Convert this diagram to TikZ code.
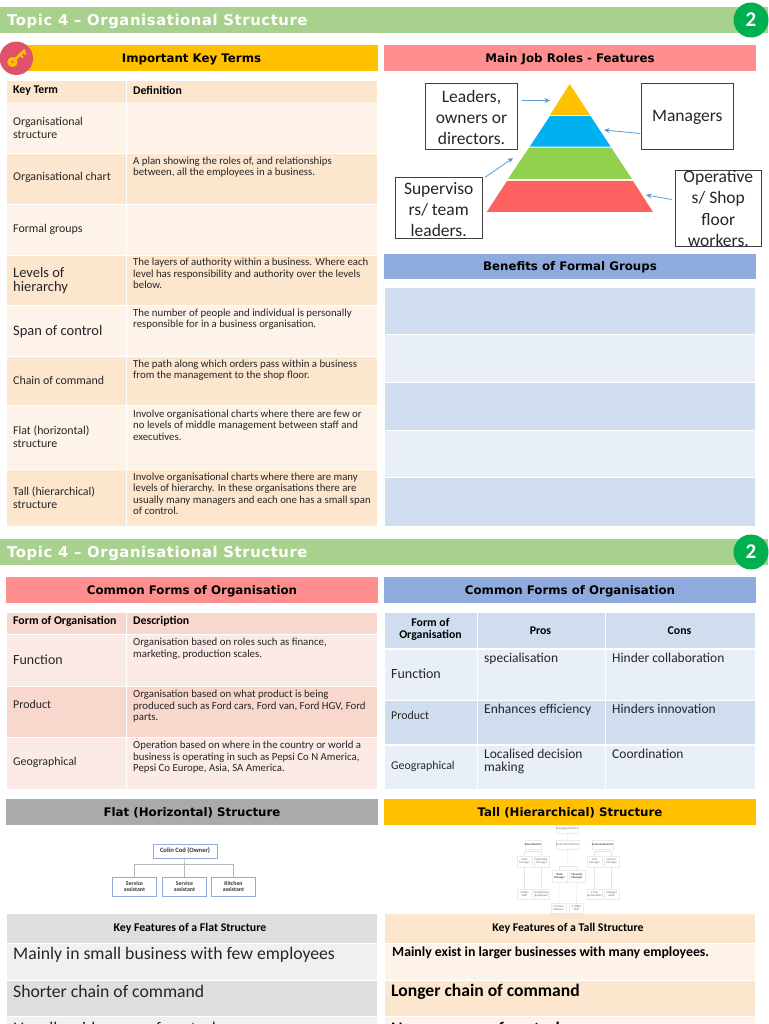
\documentclass[tikz,border=0pt]{standalone}
\usepackage{fontspec}
\usepackage{xcolor}
\setmainfont{Carlito}
\newfontfamily\headfont{DejaVu Sans}
\newfontfamily\titlefont[LetterSpace=4]{DejaVu Sans}
\usetikzlibrary{arrows.meta}
\definecolor{titlegreen}{HTML}{A9D18E}
\definecolor{badgegreen}{HTML}{00B050}
\definecolor{amber}{HTML}{FFC000}
\definecolor{salmon}{HTML}{FF8F8F}
\definecolor{periwinkle}{HTML}{8FAADC}
\definecolor{midgrey}{HTML}{ABA9A9}
\definecolor{orangeA}{HTML}{FDE6CE}
\definecolor{orangeB}{HTML}{FEF3E8}
\definecolor{blueA}{HTML}{CFDDEE}
\definecolor{blueB}{HTML}{E9EFF7}
\definecolor{pinkA}{HTML}{F8D7CD}
\definecolor{pinkB}{HTML}{FBEAE6}
\definecolor{greyA}{HTML}{DEDEDE}
\definecolor{greyB}{HTML}{F0F0F0}
\definecolor{bodyink}{HTML}{262626}
\definecolor{arrowblue}{HTML}{5B9BD5}
\definecolor{keyrose}{HTML}{E0516B}
\definecolor{pyrblue}{HTML}{00B0F0}
\definecolor{pyrgreen}{HTML}{92D050}
\definecolor{pyrred}{HTML}{FF6161}
\tikzset{
  banner/.style={inner sep=0, outer sep=0, minimum height=26, text=black,
    text height=8.6, text depth=0,
    font=\headfont\bfseries\fontsize{11.8}{13}\selectfont},
  topictitle/.style={anchor=west, inner sep=0, text=white, text height=11, text depth=0,
    font=\titlefont\bfseries\fontsize{14.8}{16}\selectfont},
  badge/.style={circle, fill=badgegreen, minimum size=35, inner sep=0, text=white,
    text height=13.5, text depth=0, font=\bfseries\fontsize{21}{21}\selectfont},
  colhead/.style={anchor=west, inner sep=0, text=black, align=left, yshift=-0.7,
    font=\bfseries\fontsize{11.8}{12.5}\selectfont},
  colheadmid/.style={inner sep=0, text=black, align=center, yshift=-0.5,
    font=\bfseries\fontsize{11.8}{12.5}\selectfont},
  term/.style={anchor=west, inner sep=0, text=bodyink, align=left, yshift=-0.7,
    font=\fontsize{11.9}{12.5}\selectfont},
  bigterm/.style={term, yshift=-1, font=\fontsize{14.5}{14.5}\selectfont},
  functerm/.style={term, font=\fontsize{14}{15}\selectfont},
  defn/.style={anchor=north west, inner sep=0, text=bodyink, align=left, yshift=-1,
    font=\fontsize{10.8}{11.4}\selectfont},
  procon/.style={anchor=north west, inner sep=0, text=bodyink, align=left, yshift=-1,
    font=\fontsize{13.5}{13.5}\selectfont},
  jobbox/.style={draw=black!75, fill=white, line width=0.8, inner sep=0, outer sep=0,
    align=center, text=bodyink, font=\fontsize{17.5}{21.3}\selectfont},
  jobarrow/.style={arrowblue, line width=0.8, -{Stealth[length=5.5, width=5]}},
  chartbox/.style={draw=periwinkle, fill=white, line width=0.6, inner sep=0,
    align=center, text=black!80, font=\bfseries\fontsize{5.8}{6.8}\selectfont},
  tinybox/.style={draw=black!8, fill=white, line width=0.4, inner sep=0,
    align=center, text=black!60, font=\fontsize{2.9}{3.4}\selectfont},
  tinybold/.style={tinybox, text=black!75, font=\bfseries\fontsize{2.9}{3.4}\selectfont},
  chartline/.style={draw=black!28, line width=0.6},
  tinyline/.style={draw=black!10, line width=0.4},
  bigfeature/.style={anchor=west, inner sep=0, text=bodyink, yshift=-1.5, font=\fontsize{17.7}{20}\selectfont},
  boldfeature/.style={bigfeature, text=black, font=\bfseries\fontsize{17.6}{20}\selectfont},
}
\begin{document}
\begin{tikzpicture}[x=1pt,y=-1pt]
  \useasboundingbox (0,0) rectangle (768,1024);
  \fill[white] (0,0) rectangle (768,1024);

  % Title bars with the number badge
  \foreach \y in {7,539} {
    \fill[titlegreen] (0,\y) rectangle (768,\y+26);
  }
  \node[topictitle] (titleA) at (7,20) {Topic 4 – Organisational Structure};
  \node[topictitle] (titleB) at (7,552) {Topic 4 – Organisational Structure};
  \node[badge] (badgeA) at (751,20) {2};
  \node[badge] (badgeB) at (751,552) {2};

  % Section banners
  \node[banner, fill=amber, minimum width=353] (termsHead) at (201.5,58) {};
  \node[banner] (termsText) at (191.5,58) {Important Key Terms};
  \node[banner, fill=salmon, minimum width=372] (rolesHead) at (570,58) {Main Job Roles - Features};
  \node[banner, fill=periwinkle, minimum width=372, minimum height=25] (benefitsHead) at (570,266.5) {Benefits of Formal Groups};
  \node[banner, fill=salmon, minimum width=372] (formsHead) at (192,590) {Common Forms of Organisation};
  \node[banner, fill=periwinkle, minimum width=372] (prosHead) at (570,590) {Common Forms of Organisation};
  \node[banner, fill=midgrey, minimum width=372] (flatHead) at (192,812) {Flat (Horizontal) Structure};
  \node[banner, fill=amber, minimum width=372] (tallHead) at (570,812) {Tall (Hierarchical) Structure};

  % Key icon on the first banner
  \fill[keyrose] (16.3,58.3) circle (16.7);
  \draw[amber, line width=3.6] (12.5,62) circle (3.2);
  \draw[amber, line width=2.6] (15,59.5) -- (25,50);
  \draw[amber, line width=2] (20,54.5) -- (23,57.5) (23,51.5) -- (26,54.5);

  % Key terms table
  \foreach \ya/\yb/\col in {81/102/orangeA,102.5/153/orangeB,154/204/orangeA,205/255/orangeB,
      256/305/orangeA,306/356/orangeB,357/405/orangeA,406/469/orangeB,470/526/orangeA} {
    \fill[\col] (7,\ya) rectangle (126,\yb);
    \fill[\col] (127,\ya) rectangle (377,\yb);
  }
  \node[colhead] (keyTerm) at (13,89.5) {Key Term};
  \node[colhead] (keyDef) at (133,89.5) {Definition};
  \node[term] (tStructure) at (13,127) {Organisational\\structure};
  \node[term] (tChart) at (13,176.5) {Organisational chart};
  \node[term] (tFormal) at (13,228.5) {Formal groups};
  \node[bigterm] (tLevels) at (13,279) {Levels of\\hierarchy};
  \node[bigterm] (tSpan) at (13,330) {Span of control};
  \node[term] (tCommand) at (13,379.5) {Chain of command};
  \node[term] (tFlat) at (13,436) {Flat (horizontal)\\structure};
  \node[term] (tTall) at (13,497) {Tall (hierarchical)\\structure};
  \node[defn] (dChart) at (133,155.5) {A plan showing the roles of, and relationships\\between, all the employees in a business.};
  \node[defn] (dLevels) at (133,257) {The layers of authority within a business. Where each\\level has responsibility and authority over the levels\\below.};
  \node[defn] (dSpan) at (133,307.5) {The number of people and individual is personally\\responsible for in a business organisation.};
  \node[defn] (dCommand) at (133,358.5) {The path along which orders pass within a business\\from the management to the shop floor.};
  \node[defn] (dFlat) at (133,408.5) {Involve organisational charts where there are few or\\no levels of middle management between staff and\\executives.};
  \node[defn] (dTall) at (133,471.5) {Involve organisational charts where there are many\\levels of hierarchy. In these organisations there are\\usually many managers and each one has a small span\\of control.};

  % Pyramid
  \fill[amber] (569.7,84) -- (590,115) -- (550,115) -- cycle;
  \fill[pyrblue] (550,116) -- (590.5,116) -- (610.7,146.7) -- (529.7,146.7) -- cycle;
  \fill[pyrgreen] (529,147.7) -- (611.3,147.7) -- (632,179) -- (508,179) -- cycle;
  \fill[pyrred] (507,181) -- (633,181) -- (653,212) -- (486.7,212) -- cycle;

  % Job role boxes and their arrows
  \node[jobbox, minimum width=91.6, minimum height=65.6] (leaders) at (471.5,116.5) {\rule{0pt}{14pt}Leaders,\\owners or\\directors.};
  \node[jobbox, minimum width=92, minimum height=65.6, text height=10.5, text depth=0] (managers) at (687.3,116.5) {Managers};
  \node[jobbox, minimum width=86.7, minimum height=61.4] (supervisors) at (438.7,208) {\rule{0pt}{15pt}Superviso\\rs/ team\\leaders.};
  \node[jobbox, minimum width=86.7, minimum height=61.4] (operatives) at (718.3,208.5) {Operative\\s/ Shop\\floor\\workers.};
  \coordinate (tipLeaders) at (550,100.5);
  \coordinate (tipManagers) at (604,130);
  \coordinate (tipSupervisors) at (513,158);
  \coordinate (tipOperatives) at (646,195);
  \draw[jobarrow] ([shift={(5,-16)}]leaders.east) -- (tipLeaders);
  \draw[jobarrow] ([shift={(-1,17)}]managers.west) -- (tipManagers);
  \draw[jobarrow] ([shift={(3,0)}]supervisors.north east) -- (tipSupervisors);
  \draw[jobarrow] ([shift={(-3,-9)}]operatives.west) -- (tipOperatives);

  % Benefits rows
  \foreach \ya/\yb/\col in {288/334/blueA,335/382/blueB,383/430/blueA,431/477/blueB,478/526/blueA} {
    \fill[\col] (385,\ya) rectangle (755,\yb);
  }

  % Forms of organisation table
  \foreach \ya/\yb/\col in {613/634/pinkA,635/686/pinkB,687/737/pinkA,738/789/pinkB} {
    \fill[\col] (7,\ya) rectangle (126,\yb);
    \fill[\col] (127,\ya) rectangle (377,\yb);
  }
  \node[colhead] (formHead) at (13,620.5) {Form of Organisation};
  \node[colhead] (descHead) at (133,620.5) {Description};
  \node[functerm] (fFunction) at (13,659) {Function};
  \node[term] (fProduct) at (13,703.5) {Product};
  \node[term] (fGeo) at (13,762) {Geographical};
  \node[defn] (dFunction) at (133,637) {Organisation based on roles such as finance,\\marketing, production scales.};
  \node[defn] (dProduct) at (133,689) {Organisation based on what product is being\\produced such as Ford cars, Ford van, Ford HGV, Ford\\parts.};
  \node[defn] (dGeo) at (133,740) {Operation based on where in the country or world a\\business is operating in such as Pepsi Co N America,\\Pepsi Co Europe, Asia, SA America.};

  % Pros and cons table
  \foreach \ya/\yb/\col in {613/648/blueA,650/700/blueB,701/744/blueA,746/789/blueB} {
    \fill[\col] (385,\ya) rectangle (477,\yb);
    \fill[\col] (478,\ya) rectangle (604.5,\yb);
    \fill[\col] (606,\ya) rectangle (755,\yb);
  }
  \node[colheadmid] (formOrg) at (430.5,629) {Form of\\Organisation};
  \node[colheadmid] (pros) at (540.5,630) {Pros};
  \node[colheadmid] (cons) at (679.5,630) {Cons};
  \node[functerm] (pFunction) at (391,673.5) {Function};
  \node[term] (pProduct) at (391,714.5) {Product};
  \node[term] (pGeo) at (391,766) {Geographical};
  \node[procon] (proA) at (484,651.5) {specialisation};
  \node[procon] (conA) at (612,651.5) {Hinder collaboration};
  \node[procon] (proB) at (484,703) {Enhances efficiency};
  \node[procon] (conB) at (612,703) {Hinders innovation};
  \node[procon] (proC) at (484,747.5) {Localised decision\\making};
  \node[procon] (conC) at (612,747.5) {Coordination};

  % Flat structure chart
  \coordinate (flatBus) at (184.5,864.5);
  \node[chartbox, minimum width=64, minimum height=14, font=\bfseries\fontsize{6.6}{7}\selectfont] (colin) at (185,851) {Colin Cod (Owner)};
  \node[chartbox, minimum width=43.5, minimum height=19] (serviceA) at (134.5,886.5) {Service\\assistant};
  \node[chartbox, minimum width=43.5, minimum height=19] (serviceB) at (184.5,886.5) {Service\\assistant};
  \node[chartbox, minimum width=43.5, minimum height=19] (kitchen) at (233.5,886.5) {Kitchen\\assistant};
  \draw[chartline] (colin) -- (flatBus);
  \foreach \n in {serviceA,serviceB,kitchen} {
    \draw[chartline] (flatBus) -| (\n);
  }

  % Tall structure chart
  \coordinate (busSales) at (533,851.5);
  \coordinate (busProd) at (568,866);
  \coordinate (busAcc) at (603,851.5);
  \node[tinybox, minimum width=20, minimum height=8] (md) at (567,829) {Managing Director};
  \node[tinybold, minimum width=16, minimum height=9] (salesDir) at (533,844.5) {Sales Director};
  \node[tinybox, minimum width=21, minimum height=9] (prodDir) at (567.5,844.5) {Production Director};
  \node[tinybold, minimum width=19, minimum height=9] (accDir) at (602.5,844.5) {Accounts Director};
  \node[tinybox, minimum width=15, minimum height=11] (salesMgr) at (524.5,861.5) {Sales\\Manager};
  \node[tinybox, minimum width=15, minimum height=11] (mktMgr) at (541.5,861.5) {Marketing\\Manager};
  \node[tinybox, minimum width=15, minimum height=11] (costMgr) at (594.5,861.5) {Cost\\Manager};
  \node[tinybox, minimum width=15, minimum height=11] (incMgr) at (611.5,861.5) {Income\\Manager};
  \node[tinybold, minimum width=15, minimum height=12] (stockMgr) at (559.5,876) {Stock\\Manager};
  \node[tinybold, minimum width=16, minimum height=12] (finMgr) at (577,876) {Financial\\Manager};
  \node[tinybox, minimum width=15, minimum height=10] (salesStaff) at (524.5,894) {3 Sales\\Staff};
  \node[tinybox, minimum width=15, minimum height=10] (mktStaff) at (541.5,894) {4 Marketing\\Employees};
  \node[tinybox, minimum width=15, minimum height=10] (costStaff) at (594.5,894) {2 Cost\\Accountants};
  \node[tinybox, minimum width=15, minimum height=10] (incStaff) at (611.5,894) {3 Budget\\Clerk};
  \node[tinybox, minimum width=15, minimum height=10] (factory) at (558.5,908) {7 Factory\\Workers};
  \node[tinybox, minimum width=14, minimum height=10] (office) at (576.5,908) {4 Office\\Staff};
  \draw[tinyline] (md) -- (prodDir);
  \draw[tinyline] (prodDir) -- (busProd);
  \draw[tinyline] (salesDir) -- (busSales);
  \draw[tinyline] (accDir) -- (busAcc);
  \foreach \n in {salesMgr,mktMgr} {\draw[tinyline] (busSales) -| (\n);}
  \foreach \n in {costMgr,incMgr} {\draw[tinyline] (busAcc) -| (\n);}
  \foreach \n in {stockMgr,finMgr} {\draw[tinyline] (busProd) -| (\n);}
  \draw[tinyline] (salesMgr) -- (salesStaff);
  \draw[tinyline] (mktMgr) -- (mktStaff);
  \draw[tinyline] (costMgr) -- (costStaff);
  \draw[tinyline] (incMgr) -- (incStaff);
  \draw[tinyline] (stockMgr) -- (factory);
  \draw[tinyline] (finMgr) -- (office);

  % Key features tables
  \foreach \ya/\yb/\cola/\colb in {914/943/greyA/orangeA,943.5/980/greyB/orangeB,981/1016/greyA/orangeA,1017/1024/greyB/orangeB} {
    \fill[\cola] (7,\ya) rectangle (377,\yb);
    \fill[\colb] (385,\ya) rectangle (755,\yb);
  }
  \node[colheadmid] (flatFeat) at (190,927.5) {Key Features of a Flat Structure};
  \node[colheadmid] (tallFeat) at (568,927.5) {Key Features of a Tall Structure};
  \node[bigfeature] (flatA) at (13,953.5) {Mainly in small business with few employees};
  \node[bigfeature] (flatB) at (13,990) {Shorter chain of command};
  \node[bigfeature] (flatC) at (13,1028.5) {Usually wide span of control};
  \node[colhead, font=\bfseries\fontsize{13.8}{14}\selectfont] (tallA) at (392,952) {Mainly exist in larger businesses with many employees.};
  \node[boldfeature] (tallB) at (391,990) {Longer chain of command};
  \node[boldfeature] (tallC) at (391,1028.5) {Narrow span of control};
\end{tikzpicture}
\end{document}
